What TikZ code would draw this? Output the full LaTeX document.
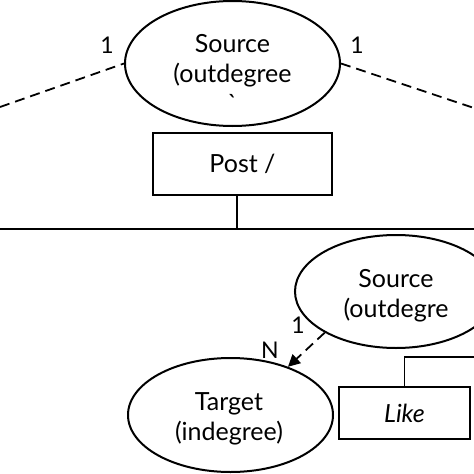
\documentclass[tikz,border=0pt]{standalone}
\usepackage{fontspec}
\setmainfont{Lato}
\usetikzlibrary{positioning, arrows.meta, shapes.geometric}

\tikzset{
	entidad/.style={draw, ellipse, line width=2pt, inner sep=0pt},
	relacion/.style={draw, rectangle, line width=1.5pt, inner sep=0pt, font=\fontsize{25}{30}\selectfont},
	texto/.style={align=center, inner sep=0pt, font=\fontsize{25}{30}\selectfont},
	card/.style={inner sep=0pt, font=\fontsize{23}{26}\selectfont},
	enlace/.style={line width=1.8pt, dash pattern=on 10pt off 6pt},
	linea/.style={line width=1.5pt},
}

\begin{document}
\begin{tikzpicture}[x=1pt, y=-1pt]
	\useasboundingbox (0,0) rectangle (474,474);

	% Parte superior
	\node[entidad, minimum width=215pt, minimum height=125pt] (srcA) at (232.5,63.5) {};
	\node[texto, anchor=base] (srcAtxt) at (232.5,112) {Source\\(outdegree\\\textasciigrave};
	\node[relacion, minimum width=179pt, minimum height=62pt] (post) at (242.5,164) {Post /};

	\coordinate (bordeI) at (0,107);
	\coordinate (bordeD) at (474,108);
	\draw[enlace] (bordeI) -- (srcA.west);
	\draw[enlace] (srcA.east) -- (bordeD);
	\node[card] (unoI) at (107,45) {1};
	\node[card] (unoD) at (357,45) {1};

	% Separador
	\coordinate (sepI) at (0,229);
	\coordinate (sepD) at (474,229);
	\coordinate (union) at (237,229);
	\draw[linea] (sepI) -- (sepD);
	\draw[linea] (union |- post.south) -- (union);

	% Parte inferior
	\node[entidad, minimum width=202pt, minimum height=113pt] (srcB) at (396,291.5) {};
	\node[texto, anchor=base] (srcBtxt) at (396,317) {Source\\(outdegre};
	\node[entidad, minimum width=205pt, minimum height=114pt] (tgt) at (230.5,415) {};
	\node[texto, anchor=base] (tgttxt) at (229,440) {Target\\(indegree)};
	\node[relacion, minimum width=131pt, minimum height=52pt] (like) at (404.5,413) {\itshape Like};

	\draw[enlace, -{Triangle[length=12pt, width=12pt]}] (srcB.210) -- (tgt.40);
	\node[card] (unoB) at (298,325) {1};
	\node[card] (eneB) at (270,350) {N};

	\coordinate (likeD) at (474,357);
	\draw[linea] (like.north) |- (likeD);
\end{tikzpicture}
\end{document}
